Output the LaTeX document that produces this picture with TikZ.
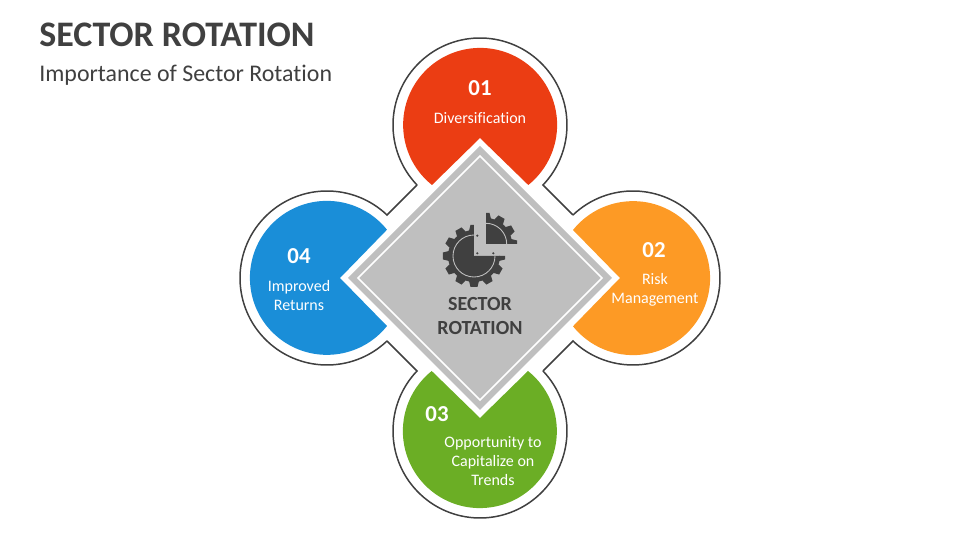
\documentclass[tikz,border=0pt]{standalone}
\usepackage{fontspec}
\setmainfont[Ligatures=NoCommon]{Carlito}
\definecolor{sectorred}{HTML}{EB3D13}
\definecolor{sectororange}{HTML}{FD9A25}
\definecolor{sectorgreen}{HTML}{6BAE25}
\definecolor{sectorblue}{HTML}{1A8ED8}
\definecolor{sectorgrey}{HTML}{BFBFBF}
\definecolor{sectordark}{HTML}{404040}
\tikzset{
	num/.style={text=white, font=\bfseries\fontsize{13}{13}\selectfont},
	lbl/.style={text=white, align=center, font=\fontsize{9.1}{11}\selectfont},
	gearline/.style={draw=sectorgrey, line width=0.5pt}
}
\begin{document}
\begin{tikzpicture}[x=0.02cm, y=0.02cm]
	\useasboundingbox (-480,-262) rectangle (480,278);
	% lobes
	\foreach \a/\c in {0/sectorred, -90/sectororange, 180/sectorgreen, 90/sectorblue}{
		\fill[\c, rotate=\a] (0,140) -- (-48,93) arc[start angle=231.3, end angle=-51.3, radius=77] -- cycle;
		\draw[sectordark, line width=0.85pt, rotate=\a] (-63,93) arc[start angle=223.6, end angle=-43.6, radius=87] -- (93,63);
	}
	% diamond
	\fill[sectorgrey] (0,132) -- (132,0) -- (0,-132) -- (-132,0) -- cycle;
	\draw[white, line width=0.85pt] (0,122) -- (122,0) -- (0,-122) -- (-122,0) -- cycle;
	% gear, big part
	\begin{scope}
		\clip (-6,22) -- (-6,60) -- (-50,60) -- (-50,-20) -- (40,-20) -- (40,22) -- cycle;
		\fill[sectordark] (-6,22) circle (26);
		\foreach \t in {0,30,...,330}
			\fill[sectordark, shift={(-6,22)}, rotate=\t] (25,-5) -- (31,-3.5) -- (31,3.5) -- (25,5) -- cycle;
		\draw[gearline] (-6,22) circle (21);
	\end{scope}
	% gear, small part
	\begin{scope}
		\clip (6,34) rectangle (45,70);
		\fill[sectordark] (6,34) circle (26);
		\foreach \t in {0,30,...,90}
			\fill[sectordark, shift={(6,34)}, rotate=\t] (25,-5) -- (31,-3.5) -- (31,3.5) -- (25,5) -- cycle;
		\draw[gearline] (6,34) circle (20.7);
	\end{scope}
	\foreach \x/\y in {-2.7/42.3, -2.7/24.7, 13.3/24.7}
		\fill[sectordark] (\x,\y) circle (1.2);
	% texts
	\node[anchor=center, text=sectordark, align=center, font=\bfseries\fontsize{11.4}{13.6}\selectfont] (centre) at (0,-38) {SECTOR\\ROTATION};
	\node[num] (numa) at (0,189.5) {01};
	\node[lbl] (lbla) at (0,159.5) {Diversification};
	\node[num] (numb) at (174,28) {02};
	\node[lbl] (lblb) at (175,-11.5) {Risk\\Management};
	\node[num] (numc) at (-43,-136) {03};
	\node[lbl] (lblc) at (13,-183) {Opportunity to\\Capitalize on\\Trends};
	\node[num] (numd) at (-181,22) {04};
	\node[lbl] (lbld) at (-181,-17.5) {Improved\\Returns};
	\node[anchor=west, inner sep=0pt, text=sectordark, font=\bfseries\fontsize{20.45}{20}\selectfont] (title) at (-441,243.5) {SECTOR ROTATION};
	\node[anchor=west, inner sep=0pt, text=sectordark, font=\fontsize{13.6}{14}\selectfont] (subtitle) at (-441,203) {Importance of Sector Rotation};
\end{tikzpicture}
\end{document}
